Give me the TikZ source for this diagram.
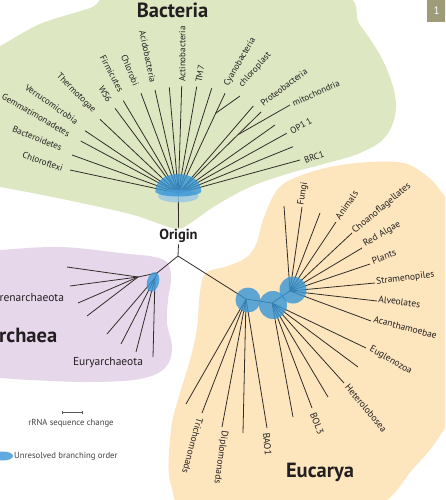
\documentclass[tikz,border=0pt]{standalone}
\usepackage{fontspec}
\setmainfont{PT Sans}
\usetikzlibrary{calc}
\definecolor{greenbg}{RGB}{221,232,195}
\definecolor{purplebg}{RGB}{231,215,235}
\definecolor{peachbg}{RGB}{253,229,190}
\definecolor{bluec}{RGB}{55,150,215}
\definecolor{linec}{RGB}{50,45,40}
\definecolor{textc}{RGB}{35,31,32}
\definecolor{boxc}{RGB}{158,155,120}
\tikzset{
  br/.style={draw=linec, line width=0.8pt},
  blob/.style={fill=bluec, fill opacity=0.8, draw=none},
  lbl/.style={font=\fontsize{9}{10}\selectfont, text=textc, inner sep=0pt},
  lble/.style={font=\fontsize{9.5}{10}\selectfont, text=textc, inner sep=0pt},
  big/.style={font=\bfseries\fontsize{20.5}{22}\selectfont, text=textc, inner sep=0pt},
  leg/.style={font=\fontsize{8.7}{10}\selectfont, text=textc!85, inner sep=0pt}
}
\begin{document}
\begin{tikzpicture}[x=1pt,y=-1pt]
\clip (0,0) rectangle (445,500);
\fill[white] (0,0) rectangle (445,500);
% backgrounds
\fill[greenbg] plot[smooth cycle, tension=0.6] coordinates {(-15,50) (0,46) (40,24) (90,8) (130,-8) (330,-8) (360,25) (385,65) (396,105) (386,136) (360,153) (320,165) (290,173) (250,187) (215,206) (192,222) (178,229) (160,224) (130,214) (67,200) (0,187) (-15,186)};
\fill[purplebg] plot[smooth cycle, tension=0.6] coordinates {(-15,251) (0,250) (60,247) (120,253) (162,259) (171,275) (168,300) (167,323) (172,348) (165,368) (140,379) (90,382) (30,380) (0,378) (-15,378)};
\fill[peachbg] plot[smooth cycle, tension=0.6] coordinates {(200,292) (206,273) (228,266) (247,257) (257,242) (263,220) (277,190) (297,177) (330,167) (370,162) (403,163) (423,173) (440,190) (455,220) (460,300) (455,400) (437,440) (412,470) (387,500) (350,515) (200,515) (171,485) (171,430) (180,393) (190,360) (197,328)};
% corner box
\fill[boxc] (427,-1) rectangle (446,22);
\node[font=\fontsize{11}{12}\selectfont, text=white] (num) at (436.5,10.5) {1};
% titles
\node[big] (tBac) at (172.5,10) {Bacteria};
\node[big] (tEuc) at (320,472) {Eucarya};
\node[big, anchor=west] (tArc) at (-1,335) {rchaea};
\node[font=\bfseries\fontsize{14.5}{16}\selectfont, text=textc, inner sep=1.5pt] (origin) at (178.5,236) {Origin};
% key coordinates
\coordinate (Bc) at (178.3,193.3);
\coordinate (S) at (178,256);
\coordinate (A0) at (157,273);
\coordinate (A1) at (138,277);
\coordinate (A2) at (155,278);
\coordinate (E1) at (246,299);
\coordinate (E2) at (272,303);
\coordinate (E3) at (290,291);
% trunk
\draw[br] (Bc) -- (origin.north);
\draw[br] (origin.south) -- (S);
\draw[br] (S) -- (A0) -- (A1);
\draw[br] (A0) -- (A2);
\draw[br] (S) -- (E1) -- (E2) -- (E3);
% bacteria ends
\foreach \n/\x/\y in {b1/70/170, b2/72/155, b3/80.7/141, b4/85/130.7, b5/100/119.3, b6/115/108.3, b7/123.3/100.7, b8/141/93.3, b9/155/90, b10/169.3/87.3, b11/181.7/86, b12/196.7/86.7, b13/211.7/88.3, b14/225/93.3, b15/253.3/106, b16/261/112, b17/275/125, b18/286.7/133.3, b19/293/146.7, b20/300/160}{
  \coordinate (\n) at (\x,\y);
  \draw[br] (Bc) -- (\n);
}
\coordinate (cj) at ($(Bc)!0.8!(b14)$);
\coordinate (cp) at (240,96);
\draw[br] (cj) -- (cp);
\coordinate (mj) at ($(Bc)!0.72!(b16)$);
\coordinate (mt) at (290,105);
\draw[br] (mj) -- (mt);
% archaea ends
\foreach \n/\x/\y in {a1/67/267, a2/70/286, a3/78/303, a4/87/316}{
  \coordinate (\n) at (\x,\y);
  \draw[br] (A1) -- (\n);
}
\foreach \n/\x/\y in {a5/107/334, a6/121/344, a7/136/352, a8/153/357}{
  \coordinate (\n) at (\x,\y);
  \draw[br] (A2) -- (\n);
}
% eucarya ends
\foreach \n/\x/\y in {e1/186/404, e2/202/413, e3/222/427, e4/243/433, e5/267/428}{
  \coordinate (\n) at (\x,\y);
  \draw[br] (E1) -- (\n);
}
\foreach \n/\x/\y in {e6/293/417, e7/312/408, e8/328/397, e9/344/383, e10/358/367, e11/366/348}{
  \coordinate (\n) at (\x,\y);
  \draw[br] (E2) -- (\n);
}
\foreach \n/\x/\y in {e12/284/206, e13/302/207, e14/320/213, e15/336/222, e16/352/233, e17/362/248, e18/370/264, e19/375/283, e20/377/301, e21/371/321}{
  \coordinate (\n) at (\x,\y);
  \draw[br] (E3) -- (\n);
}
% blue unresolved blobs
\fill[bluec!55, fill opacity=0.75] (178.3,196) ellipse [x radius=20.5, y radius=6.5];
\fill[blob] (155.3,192) .. controls (155.3,168) and (201.3,168) .. (201.3,192) .. controls (195,198) and (161.6,198) .. cycle;
\fill[blob] (153,282) ellipse [x radius=6, y radius=10, rotate=-15];
\fill[blob] (248,300) circle [radius=12.5];
\fill[blob] (273,305) circle [radius=14];
\fill[blob] (293,290) circle [radius=13.5];
% bacteria labels
\node[lbl, rotate=-19] (l1) at (42.7,161.7) {Chloroflexi};
\node[lbl, rotate=-22] (l2) at (37.3,138.3) {Bacteroidetes};
\node[lbl, rotate=-30] (l3) at (36,115) {Gemmatimonadetes};
\node[lbl, rotate=-35] (l4) at (51.7,104.3) {Verrucomicrobia};
\node[lbl, rotate=-45] (l5) at (76,93.3) {Thermotogae};
\node[lbl, rotate=-60] (l6) at (105.3,94) {WS6};
\node[lbl, rotate=-62] (l7) at (111.7,73.3) {Firmicutes};
\node[lbl, rotate=-68] (l8) at (130,70) {Chlorobi};
\node[lbl, rotate=-78] (l9) at (147.7,56.7) {Acidobacteria};
\node[lbl, rotate=90] (l10) at (182.3,54) {Actinobacteria};
\node[lbl, rotate=80] (l11) at (200,74) {TM7};
\node[lbl, rotate=60] (l12) at (240,61.7) {Cyanobacteria};
\node[lbl, rotate=48] (l13) at (255,70) {chloroplast};
\node[lbl, rotate=37] (l14) at (284,87.3) {Proteobacteria};
\node[lbl, rotate=25] (l15) at (316,93.3) {mitochondria};
\node[lbl, rotate=30] (l16) at (301,126) {OP1 1};
\node[lbl, rotate=20] (l17) at (314,157.3) {BRC1};
% archaea labels
\node[lbl, font=\fontsize{11.5}{13}\selectfont, anchor=west] (l18) at (-0.5,298) {renarchaeota};
\node[lbl, font=\fontsize{11.5}{13}\selectfont] (l19) at (108,363) {Euryarchaeota};
% eucarya labels
\node[lble, rotate=80] (l20) at (303,194) {Fungi};
\node[lble, rotate=55] (l21) at (346.7,205) {Animals};
\node[lble, rotate=40] (l22) at (381.7,208.3) {Choanoflagellates};
\node[lble, rotate=30] (l23) at (382,234.3) {Red\hspace{3pt}Algae};
\node[lble, rotate=20] (l24) at (384,256.7) {Plants};
\node[lble, rotate=7] (l25) at (405.3,278.3) {Stramenopiles};
\node[lble, rotate=-7] (l26) at (399.3,301.7) {Alveolates};
\node[lble, rotate=-15] (l27) at (405.3,327.3) {Acanthamoebae};
\node[lble, rotate=-30] (l28) at (390.7,360.3) {Euglenozoa};
\node[lble, rotate=-50] (l29) at (366,408.3) {Heterolobosea};
\node[lble, rotate=-68] (l30) at (317,423.3) {BOL3};
\node[lble, rotate=-85] (l31) at (267.3,444) {BAO1};
\node[lble, rotate=-98] (l32) at (220.7,457.3) {Diplomonads};
\node[lble, rotate=-105] (l33) at (192.7,446) {Trichomonads};
% legend
\coordinate (sb1) at (62,412);
\coordinate (sb2) at (82,412);
\draw[draw=linec!80, line width=0.5pt] (sb1) -- (sb2);
\draw[draw=linec!80, line width=0.5pt] ($(sb1)+(0,-1.5)$) -- ($(sb1)+(0,1.5)$);
\draw[draw=linec!80, line width=0.5pt] ($(sb2)+(0,-1.5)$) -- ($(sb2)+(0,1.5)$);
\node[leg] (lg1) at (71,423.5) {rRNA sequence change};
\fill[blob] (3,456) ellipse [x radius=10, y radius=4.5];
\node[leg, anchor=west] (lg2) at (14,456) {Unresolved branching order};
\end{tikzpicture}
\end{document}
